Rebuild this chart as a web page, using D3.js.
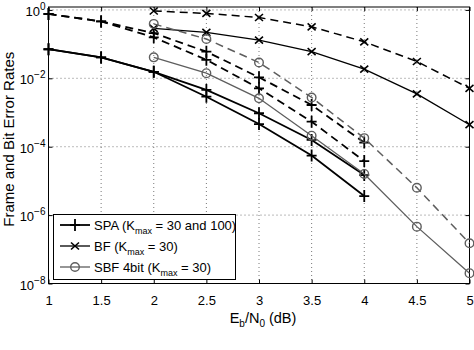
<!DOCTYPE html>
<html>
<head>
<meta charset="utf-8">
<script src="https://d3js.org/d3.v7.min.js"></script>
<style>
  body { margin: 0; background: #fff; }
  svg text { font-family: "Liberation Sans", Arial, sans-serif; fill: #000; }
</style>
</head>
<body>
<svg id="chart"></svg>
<script>
// Eb/N0 points (dB)
const ebnoSPA = [1, 1.5, 2, 2.5, 3, 3.5, 4];
const ebnoBF = [2, 2.5, 3, 3.5, 4, 4.5, 5];
const ebnoSBF = [2, 2.5, 3, 3.5, 4, 4.5, 5];

// SPA, two Kmax settings (solid = BER, dashed = FER)
const spaBerA = [0.0708, 0.0407, 0.0155, 0.00457, 9.5e-4, 1.58e-4, 1.48e-5];
const spaBerB = [0.0708, 0.0407, 0.0155, 0.0029, 4.6e-4, 5.5e-5, 3.6e-6];
const spaFerA = [0.76, 0.46, 0.21, 0.060, 0.0107, 1.66e-3, 1.32e-4];
const spaFerB = [0.76, 0.46, 0.158, 0.0347, 5.1e-3, 5.4e-4, 3.8e-5];

// BF
const bfFer = [0.93, 0.79, 0.60, 0.32, 0.117, 0.031, 5.1e-3];
const bfBer = [0.29, 0.22, 0.13, 0.060, 0.0186, 3.5e-3, 4.4e-4];

// SBF 4bit
const sbfFer = [0.39, 0.141, 0.029, 2.75e-3, 1.78e-4, 6.3e-6, 1.5e-7];
const sbfBer = [0.041, 0.0141, 0.0026, 2.1e-4, 1.6e-5, 4.6e-7, 2.0e-8];

const xTicks = [1, 1.5, 2, 2.5, 3, 3.5, 4, 4.5, 5];
const yTickExp = [0, -2, -4, -6, -8];

const legendLabels = ["SPA", "BF", "SBF 4bit"];
const legendSub = ["30 and 100", "30", "30"];

const width = 474, height = 350;
const pLeft = 48.5, pRight = 469.5, pTop = 7, pBottom = 283.5;
const gray = "#5e5e5e";

const svg = d3.select("#chart").attr("width", width).attr("height", height);

const x = d3.scaleLinear().domain([1, 5]).range([pLeft, pRight]);
const y = d3.scaleLog().domain([1e-8, Math.pow(10, 0.085)]).range([pBottom, pTop]);

// grid
const grid = svg.append("g")
  .attr("stroke", "#555")
  .attr("stroke-width", 0.8)
  .attr("stroke-dasharray", "1,3");
grid.selectAll(".vx").data(xTicks.slice(1, -1)).enter().append("line")
  .attr("x1", d => x(d)).attr("x2", d => x(d))
  .attr("y1", pTop).attr("y2", pBottom);
grid.selectAll(".hy").data(yTickExp.slice(0, -1)).enter().append("line")
  .attr("x1", pLeft).attr("x2", pRight)
  .attr("y1", d => y(Math.pow(10, d))).attr("y2", d => y(Math.pow(10, d)));

// axes (ticks inside, MATLAB style)
const xAxis = svg.append("g")
  .attr("transform", `translate(0,${pBottom})`)
  .call(d3.axisBottom(x).tickValues(xTicks).tickSize(-4).tickPadding(12).tickFormat(d3.format("")));
xAxis.select(".domain").remove();
xAxis.selectAll("text").style("font-size", "13px");

svg.append("g")
  .attr("transform", `translate(0,${pTop})`)
  .call(d3.axisTop(x).tickValues(xTicks).tickSize(-4).tickFormat(""))
  .select(".domain").remove();

const yAxis = svg.append("g")
  .attr("transform", `translate(${pLeft},0)`)
  .call(d3.axisLeft(y).tickValues(yTickExp.map(e => Math.pow(10, e))).tickSize(-4).tickFormat(""));
yAxis.select(".domain").remove();

svg.append("g")
  .attr("transform", `translate(${pRight},0)`)
  .call(d3.axisRight(y).tickValues(yTickExp.map(e => Math.pow(10, e))).tickSize(-4).tickFormat(""))
  .select(".domain").remove();

// y tick labels 10^n
yTickExp.forEach(e => {
  const t = svg.append("text")
    .attr("x", pLeft - 3)
    .attr("y", y(Math.pow(10, e)) + 6)
    .attr("text-anchor", "end")
    .style("font-size", "13px");
  t.append("tspan").text("10");
  t.append("tspan").attr("dy", -6).style("font-size", "10px").text(e === 0 ? "0" : "\u2212" + (-e));
});

svg.append("rect")
  .attr("x", pLeft).attr("y", pTop)
  .attr("width", pRight - pLeft).attr("height", pBottom - pTop)
  .attr("fill", "none").attr("stroke", "#000").attr("stroke-width", 1);

// axis titles
const xl = svg.append("text")
  .attr("x", (pLeft + pRight) / 2 + 4)
  .attr("y", 323)
  .attr("text-anchor", "middle")
  .style("font-size", "14.5px");
xl.append("tspan").text("E");
xl.append("tspan").attr("dy", 4).style("font-size", "10px").text("b");
xl.append("tspan").attr("dy", -4).text("/N");
xl.append("tspan").attr("dy", 4).style("font-size", "10px").text("0");
xl.append("tspan").attr("dy", -4).text(" (dB)");

svg.append("text")
  .attr("transform", `translate(14,${(pTop + pBottom) / 2 - 6}) rotate(-90)`)
  .attr("text-anchor", "middle")
  .style("font-size", "15px")
  .text("Frame and Bit Error Rates");

// series
const line = d3.line().x(d => x(d[0])).y(d => y(d[1]));
const series = [
  { xs: ebnoSPA, ys: spaFerA, color: "#000", w: 1.8, dash: "8,5", mark: "plus" },
  { xs: ebnoSPA, ys: spaFerB, color: "#000", w: 1.8, dash: "8,5", mark: "plus" },
  { xs: ebnoSPA, ys: spaBerA, color: "#000", w: 1.8, dash: null, mark: "plus" },
  { xs: ebnoSPA, ys: spaBerB, color: "#000", w: 1.8, dash: null, mark: "plus" },
  { xs: ebnoBF, ys: bfFer, color: "#000", w: 1.5, dash: "8,5", mark: "cross" },
  { xs: ebnoBF, ys: bfBer, color: "#000", w: 1.3, dash: null, mark: "cross" },
  { xs: ebnoSBF, ys: sbfFer, color: gray, w: 1.5, dash: "8,5", mark: "circle" },
  { xs: ebnoSBF, ys: sbfBer, color: gray, w: 1.3, dash: null, mark: "circle" }
];

function drawMarker(g, type, cx, cy, color) {
  if (type === "plus") {
    g.append("path").attr("d", `M${cx - 5},${cy}H${cx + 5}M${cx},${cy - 6}V${cy + 6}`)
      .attr("stroke", color).attr("stroke-width", 1.8).attr("fill", "none");
  } else if (type === "cross") {
    g.append("path").attr("d", `M${cx - 4},${cy - 3.5}L${cx + 4},${cy + 3.5}M${cx - 4},${cy + 3.5}L${cx + 4},${cy - 3.5}`)
      .attr("stroke", color).attr("stroke-width", 1.6).attr("fill", "none");
  } else {
    g.append("circle").attr("cx", cx).attr("cy", cy).attr("r", 4.3)
      .attr("stroke", color).attr("stroke-width", 1.4).attr("fill", "none");
  }
}

series.forEach(s => {
  const pts = s.xs.map((v, i) => [v, s.ys[i]]);
  svg.append("path")
    .attr("d", line(pts))
    .attr("fill", "none")
    .attr("stroke", s.color)
    .attr("stroke-width", s.w)
    .attr("stroke-dasharray", s.dash);
  const g = svg.append("g");
  pts.forEach(p => drawMarker(g, s.mark, x(p[0]), y(p[1]), s.color));
});

// legend
const lg = svg.append("g");
lg.append("rect")
  .attr("x", 53.5).attr("y", 214.5).attr("width", 182).attr("height", 65)
  .attr("fill", "#fff").attr("stroke", "#000").attr("stroke-width", 1);
const legMarks = ["plus", "cross", "circle"];
const legColors = ["#000", "#000", gray];
const legW = [1.8, 1.3, 1.3];
legendLabels.forEach((lab, i) => {
  const ly = 225 + i * 21;
  lg.append("line").attr("x1", 60).attr("x2", 90).attr("y1", ly).attr("y2", ly)
    .attr("stroke", legColors[i]).attr("stroke-width", legW[i]);
  drawMarker(lg, legMarks[i], 75, ly, legColors[i]);
  const t = lg.append("text").attr("x", 94).attr("y", ly + 5).style("font-size", "13px");
  t.append("tspan").text(lab + " (K");
  t.append("tspan").attr("dy", 4).style("font-size", "9px").text("max");
  t.append("tspan").attr("dy", -4).text(" = " + legendSub[i] + ")");
});
</script>
</body>
</html>
